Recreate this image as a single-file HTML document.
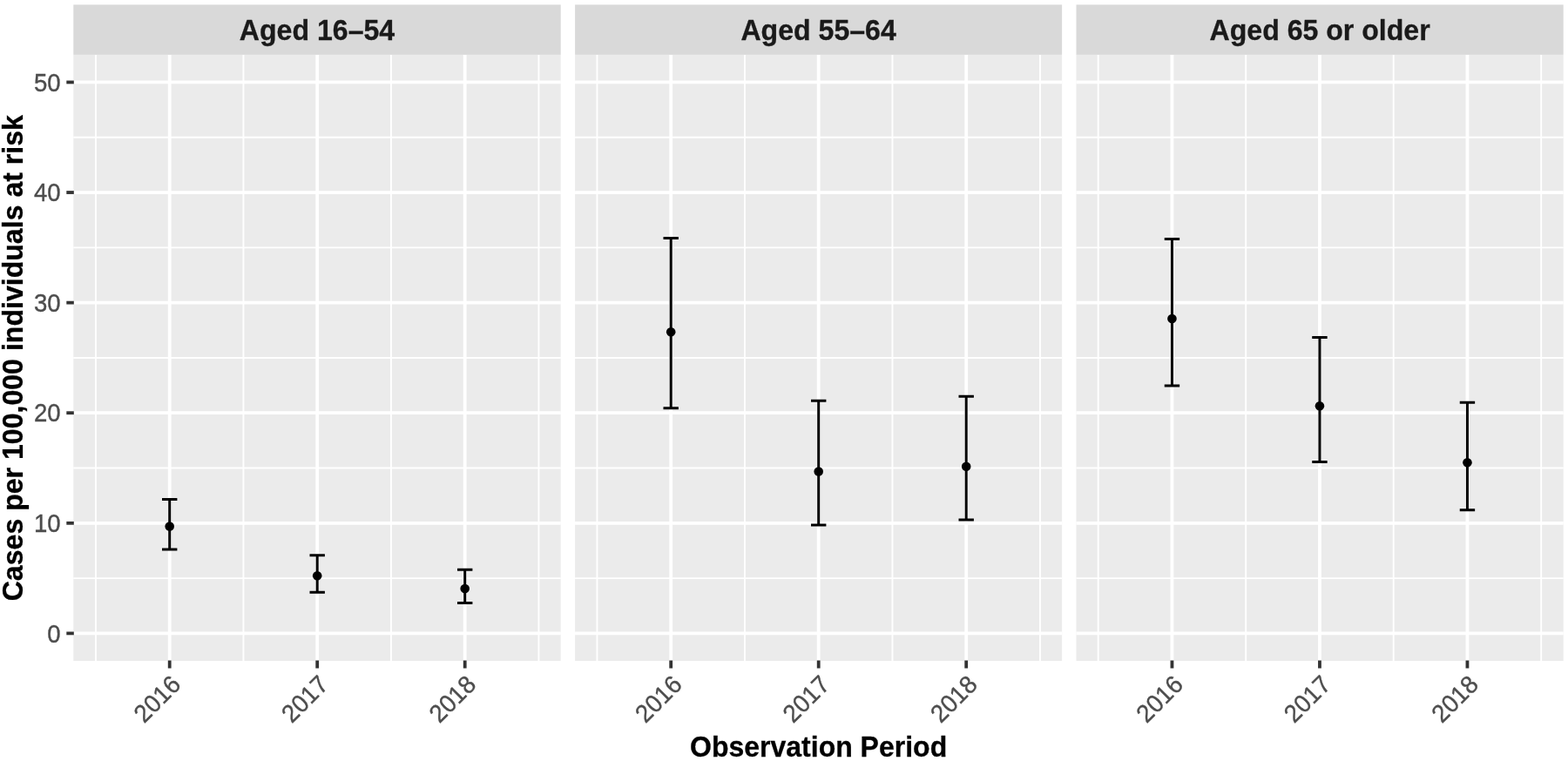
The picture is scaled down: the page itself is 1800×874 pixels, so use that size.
<!DOCTYPE html>
<html lang="en"><head><meta charset="utf-8"><title>Cases per 100,000 individuals at risk by Observation Period</title>
<style>
html,body{margin:0;padding:0;background:#fff;}
body{width:1800px;height:874px;overflow:hidden;}
svg{display:block;}
text{font-family:"Liberation Sans",Arial,Helvetica,sans-serif;}
.tk{font-size:27.60px;fill:#4d4d4d;stroke:#4d4d4d;stroke-width:0.35;}
.bd{font-size:32.10px;font-weight:bold;fill:#000;stroke:#000;stroke-width:0.3;}
.st{font-size:32.10px;font-weight:bold;fill:#1a1a1a;stroke:#1a1a1a;stroke-width:0.3;}
.maj{stroke:#fff;stroke-width:3.80;}
.min{stroke:#fff;stroke-width:1.90;}
.ax{stroke:#333;stroke-width:3.80;}
.eb{stroke:#000;stroke-width:3.00;fill:none;}
</style></head><body>
<svg width="1800" height="874" viewBox="0 0 1800 874">
<rect x="0" y="0" width="1800" height="874" fill="#fff"/>
<g>
<rect x="84.30" y="5.40" width="559.40" height="57.50" fill="#d9d9d9"/>
<rect x="84.30" y="62.90" width="559.40" height="696.10" fill="#ebebeb"/>
<line class="min" x1="84.30" x2="643.70" y1="664.11" y2="664.11"/>
<line class="min" x1="84.30" x2="643.70" y1="537.51" y2="537.51"/>
<line class="min" x1="84.30" x2="643.70" y1="410.93" y2="410.93"/>
<line class="min" x1="84.30" x2="643.70" y1="284.34" y2="284.34"/>
<line class="min" x1="84.30" x2="643.70" y1="157.75" y2="157.75"/>
<line class="min" x1="109.95" x2="109.95" y1="62.90" y2="759.00"/>
<line class="min" x1="279.45" x2="279.45" y1="62.90" y2="759.00"/>
<line class="min" x1="448.95" x2="448.95" y1="62.90" y2="759.00"/>
<line class="min" x1="618.45" x2="618.45" y1="62.90" y2="759.00"/>
<line class="maj" x1="84.30" x2="643.70" y1="727.40" y2="727.40"/>
<line class="maj" x1="84.30" x2="643.70" y1="600.81" y2="600.81"/>
<line class="maj" x1="84.30" x2="643.70" y1="474.22" y2="474.22"/>
<line class="maj" x1="84.30" x2="643.70" y1="347.63" y2="347.63"/>
<line class="maj" x1="84.30" x2="643.70" y1="221.04" y2="221.04"/>
<line class="maj" x1="84.30" x2="643.70" y1="94.45" y2="94.45"/>
<line class="maj" x1="194.70" x2="194.70" y1="62.90" y2="759.00"/>
<line class="maj" x1="364.20" x2="364.20" y1="62.90" y2="759.00"/>
<line class="maj" x1="533.70" x2="533.70" y1="62.90" y2="759.00"/>
<path class="eb" d="M186.00 573.50H203.40M194.70 573.50V631.00M186.00 631.00H203.40"/>
<circle cx="194.70" cy="604.60" r="5.30" fill="#000"/>
<path class="eb" d="M355.50 637.70H372.90M364.20 637.70V680.30M355.50 680.30H372.90"/>
<circle cx="364.20" cy="661.30" r="5.30" fill="#000"/>
<path class="eb" d="M525.00 654.30H542.40M533.70 654.30V692.40M525.00 692.40H542.40"/>
<circle cx="533.70" cy="676.10" r="5.30" fill="#000"/>
<text class="st" text-anchor="middle" transform="translate(364.00 45.75) scale(1 1.040)" x="0" y="0">Aged 16–54</text>
<line class="ax" x1="194.70" x2="194.70" y1="758.50" y2="767.50"/>
<text class="tk" text-anchor="end" transform="translate(209.00 788.00) rotate(-45) scale(1 1.040)" x="0" y="0">2016</text>
<line class="ax" x1="364.20" x2="364.20" y1="758.50" y2="767.50"/>
<text class="tk" text-anchor="end" transform="translate(378.50 788.00) rotate(-45) scale(1 1.040)" x="0" y="0">2017</text>
<line class="ax" x1="533.70" x2="533.70" y1="758.50" y2="767.50"/>
<text class="tk" text-anchor="end" transform="translate(548.00 788.00) rotate(-45) scale(1 1.040)" x="0" y="0">2018</text>
</g>
<g>
<rect x="660.10" y="5.40" width="559.00" height="57.50" fill="#d9d9d9"/>
<rect x="660.10" y="62.90" width="559.00" height="696.10" fill="#ebebeb"/>
<line class="min" x1="660.10" x2="1219.10" y1="664.11" y2="664.11"/>
<line class="min" x1="660.10" x2="1219.10" y1="537.51" y2="537.51"/>
<line class="min" x1="660.10" x2="1219.10" y1="410.93" y2="410.93"/>
<line class="min" x1="660.10" x2="1219.10" y1="284.34" y2="284.34"/>
<line class="min" x1="660.10" x2="1219.10" y1="157.75" y2="157.75"/>
<line class="min" x1="685.45" x2="685.45" y1="62.90" y2="759.00"/>
<line class="min" x1="854.95" x2="854.95" y1="62.90" y2="759.00"/>
<line class="min" x1="1024.45" x2="1024.45" y1="62.90" y2="759.00"/>
<line class="min" x1="1193.95" x2="1193.95" y1="62.90" y2="759.00"/>
<line class="maj" x1="660.10" x2="1219.10" y1="727.40" y2="727.40"/>
<line class="maj" x1="660.10" x2="1219.10" y1="600.81" y2="600.81"/>
<line class="maj" x1="660.10" x2="1219.10" y1="474.22" y2="474.22"/>
<line class="maj" x1="660.10" x2="1219.10" y1="347.63" y2="347.63"/>
<line class="maj" x1="660.10" x2="1219.10" y1="221.04" y2="221.04"/>
<line class="maj" x1="660.10" x2="1219.10" y1="94.45" y2="94.45"/>
<line class="maj" x1="770.20" x2="770.20" y1="62.90" y2="759.00"/>
<line class="maj" x1="939.70" x2="939.70" y1="62.90" y2="759.00"/>
<line class="maj" x1="1109.20" x2="1109.20" y1="62.90" y2="759.00"/>
<path class="eb" d="M761.50 273.50H778.90M770.20 273.50V468.80M761.50 468.80H778.90"/>
<circle cx="770.20" cy="381.30" r="5.30" fill="#000"/>
<path class="eb" d="M931.00 460.20H948.40M939.70 460.20V602.90M931.00 602.90H948.40"/>
<circle cx="939.70" cy="541.50" r="5.30" fill="#000"/>
<path class="eb" d="M1100.50 455.20H1117.90M1109.20 455.20V597.10M1100.50 597.10H1117.90"/>
<circle cx="1109.20" cy="535.80" r="5.30" fill="#000"/>
<text class="st" text-anchor="middle" transform="translate(939.60 45.75) scale(1 1.040)" x="0" y="0">Aged 55–64</text>
<line class="ax" x1="770.20" x2="770.20" y1="758.50" y2="767.50"/>
<text class="tk" text-anchor="end" transform="translate(784.50 788.00) rotate(-45) scale(1 1.040)" x="0" y="0">2016</text>
<line class="ax" x1="939.70" x2="939.70" y1="758.50" y2="767.50"/>
<text class="tk" text-anchor="end" transform="translate(954.00 788.00) rotate(-45) scale(1 1.040)" x="0" y="0">2017</text>
<line class="ax" x1="1109.20" x2="1109.20" y1="758.50" y2="767.50"/>
<text class="tk" text-anchor="end" transform="translate(1123.50 788.00) rotate(-45) scale(1 1.040)" x="0" y="0">2018</text>
</g>
<g>
<rect x="1235.50" y="5.40" width="559.20" height="57.50" fill="#d9d9d9"/>
<rect x="1235.50" y="62.90" width="559.20" height="696.10" fill="#ebebeb"/>
<line class="min" x1="1235.50" x2="1794.70" y1="664.11" y2="664.11"/>
<line class="min" x1="1235.50" x2="1794.70" y1="537.51" y2="537.51"/>
<line class="min" x1="1235.50" x2="1794.70" y1="410.93" y2="410.93"/>
<line class="min" x1="1235.50" x2="1794.70" y1="284.34" y2="284.34"/>
<line class="min" x1="1235.50" x2="1794.70" y1="157.75" y2="157.75"/>
<line class="min" x1="1260.70" x2="1260.70" y1="62.90" y2="759.00"/>
<line class="min" x1="1430.20" x2="1430.20" y1="62.90" y2="759.00"/>
<line class="min" x1="1599.70" x2="1599.70" y1="62.90" y2="759.00"/>
<line class="min" x1="1769.20" x2="1769.20" y1="62.90" y2="759.00"/>
<line class="maj" x1="1235.50" x2="1794.70" y1="727.40" y2="727.40"/>
<line class="maj" x1="1235.50" x2="1794.70" y1="600.81" y2="600.81"/>
<line class="maj" x1="1235.50" x2="1794.70" y1="474.22" y2="474.22"/>
<line class="maj" x1="1235.50" x2="1794.70" y1="347.63" y2="347.63"/>
<line class="maj" x1="1235.50" x2="1794.70" y1="221.04" y2="221.04"/>
<line class="maj" x1="1235.50" x2="1794.70" y1="94.45" y2="94.45"/>
<line class="maj" x1="1345.45" x2="1345.45" y1="62.90" y2="759.00"/>
<line class="maj" x1="1514.95" x2="1514.95" y1="62.90" y2="759.00"/>
<line class="maj" x1="1684.45" x2="1684.45" y1="62.90" y2="759.00"/>
<path class="eb" d="M1336.75 274.50H1354.15M1345.45 274.50V442.90M1336.75 442.90H1354.15"/>
<circle cx="1345.45" cy="366.00" r="5.30" fill="#000"/>
<path class="eb" d="M1506.25 387.60H1523.65M1514.95 387.60V530.60M1506.25 530.60H1523.65"/>
<circle cx="1514.95" cy="466.30" r="5.30" fill="#000"/>
<path class="eb" d="M1675.75 462.20H1693.15M1684.45 462.20V585.80M1675.75 585.80H1693.15"/>
<circle cx="1684.45" cy="531.30" r="5.30" fill="#000"/>
<text class="st" text-anchor="middle" transform="translate(1515.10 45.75) scale(1 1.040)" x="0" y="0">Aged 65 or older</text>
<line class="ax" x1="1345.45" x2="1345.45" y1="758.50" y2="767.50"/>
<text class="tk" text-anchor="end" transform="translate(1359.75 788.00) rotate(-45) scale(1 1.040)" x="0" y="0">2016</text>
<line class="ax" x1="1514.95" x2="1514.95" y1="758.50" y2="767.50"/>
<text class="tk" text-anchor="end" transform="translate(1529.25 788.00) rotate(-45) scale(1 1.040)" x="0" y="0">2017</text>
<line class="ax" x1="1684.45" x2="1684.45" y1="758.50" y2="767.50"/>
<text class="tk" text-anchor="end" transform="translate(1698.75 788.00) rotate(-45) scale(1 1.040)" x="0" y="0">2018</text>
</g>
<line class="ax" x1="76.30" x2="84.80" y1="727.40" y2="727.40"/>
<text class="tk" text-anchor="end" transform="translate(69.70 737.65) scale(1 1.090)" x="0" y="0">0</text>
<line class="ax" x1="76.30" x2="84.80" y1="600.81" y2="600.81"/>
<text class="tk" text-anchor="end" transform="translate(69.70 611.06) scale(1 1.090)" x="0" y="0">10</text>
<line class="ax" x1="76.30" x2="84.80" y1="474.22" y2="474.22"/>
<text class="tk" text-anchor="end" transform="translate(69.70 484.47) scale(1 1.090)" x="0" y="0">20</text>
<line class="ax" x1="76.30" x2="84.80" y1="347.63" y2="347.63"/>
<text class="tk" text-anchor="end" transform="translate(69.70 357.88) scale(1 1.090)" x="0" y="0">30</text>
<line class="ax" x1="76.30" x2="84.80" y1="221.04" y2="221.04"/>
<text class="tk" text-anchor="end" transform="translate(69.70 231.29) scale(1 1.090)" x="0" y="0">40</text>
<line class="ax" x1="76.30" x2="84.80" y1="94.45" y2="94.45"/>
<text class="tk" text-anchor="end" transform="translate(69.70 104.70) scale(1 1.090)" x="0" y="0">50</text>
<text class="bd" text-anchor="middle" transform="translate(25.50 411.20) rotate(-90) scale(1 1.040)" x="0" y="0">Cases per 100,000 individuals at risk</text>
<text class="bd" style="font-size:32px" text-anchor="middle" transform="translate(939.60 869.10) scale(1 1.010)" x="0" y="0">Observation Period</text>
</svg>
</body></html>
